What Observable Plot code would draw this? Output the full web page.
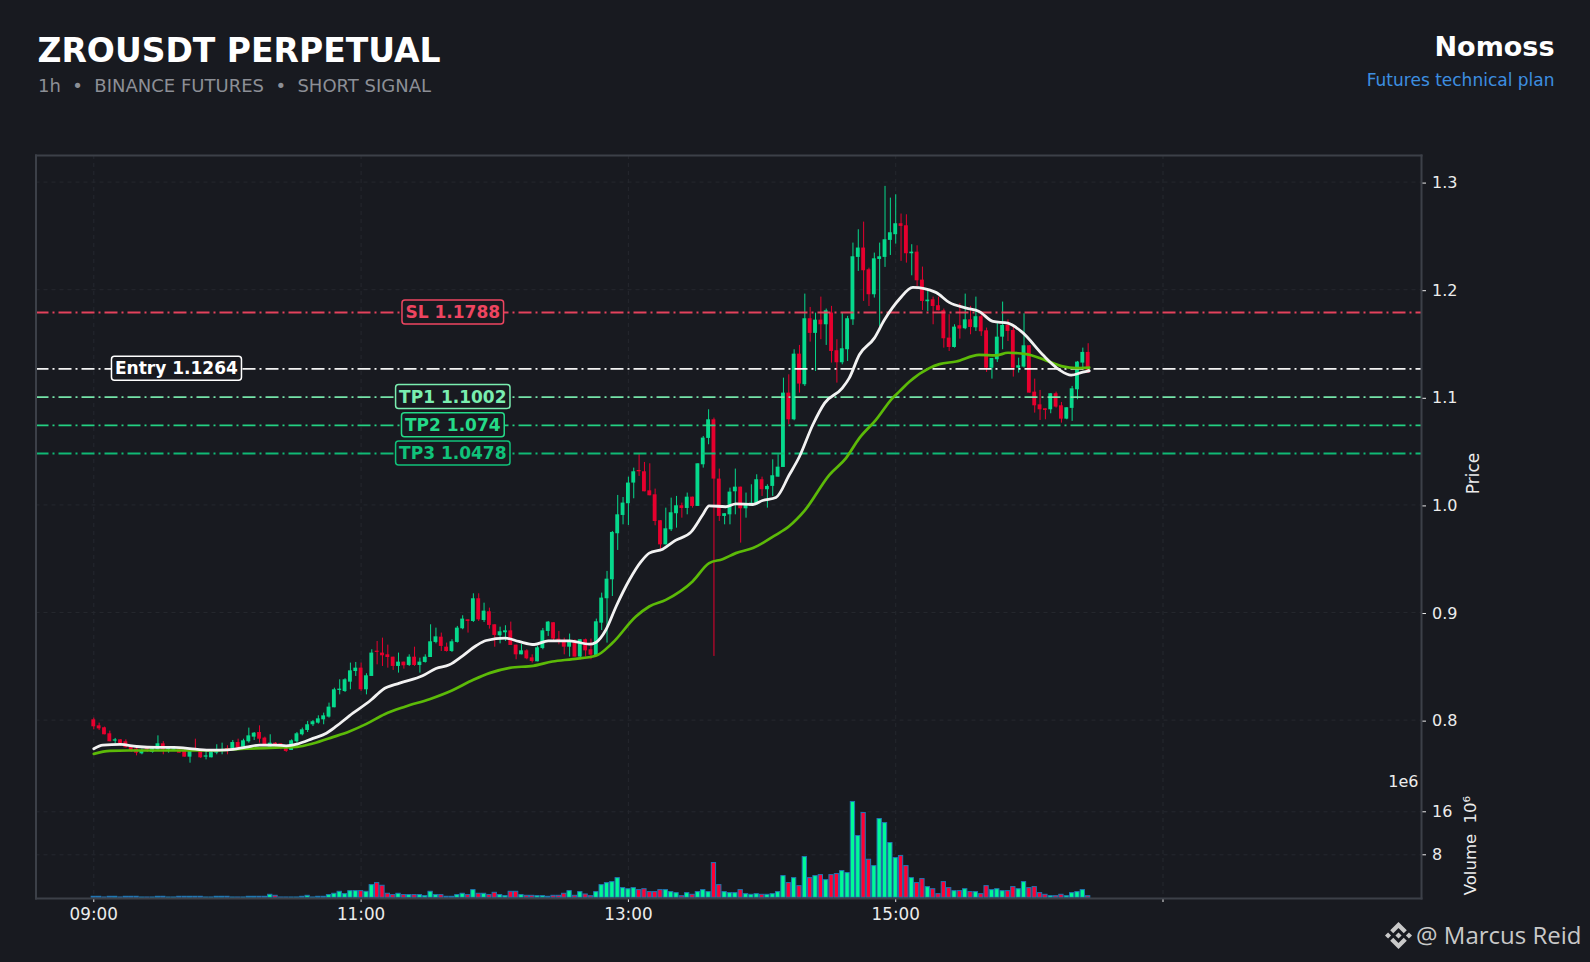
<!DOCTYPE html>
<html><head><meta charset="utf-8">
<script src="https://cdn.jsdelivr.net/npm/d3@7"></script>
<script src="https://cdn.jsdelivr.net/npm/@observablehq/plot@0.6"></script>
<style>
html,body{margin:0;padding:0;width:1590px;height:962px;overflow:hidden;background:#181a20;font-family:"DejaVu Sans",sans-serif}
.t{position:absolute;line-height:1;white-space:pre}
#price,#volume{position:absolute;left:0;width:1590px}
#price{top:129px}#volume{top:770px}
svg{display:block}
</style></head><body>
<div class="t" style="left:37.5px;top:33.5px;font-size:33px;font-weight:bold;color:#fff">ZROUSDT PERPETUAL</div>
<div class="t" style="left:38px;top:77px;font-size:18px;color:#8c8f96">1h  •  BINANCE FUTURES  •  SHORT SIGNAL</div>
<div class="t" style="right:35.5px;top:33.2px;font-size:27px;font-weight:bold;color:#fff">Nomoss</div>
<div class="t" style="right:35.5px;top:71.6px;font-size:17px;color:#3d8fe0">Futures technical plan</div>
<div id="price"></div><div id="volume"></div>
<svg style="position:absolute;left:1384.5px;top:922px" width="27" height="27" viewBox="0 0 126.61 126.61" fill="#c9c9c9"><path d="M38.73 53.2l24.59-24.58 24.6 24.6 14.3-14.31L63.32 0 24.43 38.89z"/><path d="M0 63.31l14.3-14.31 14.31 14.31-14.31 14.3z"/><path d="M38.73 73.41l24.59 24.59 24.6-24.6 14.31 14.29-38.9 38.91-38.91-38.88z"/><path d="M98 63.31l14.3-14.31 14.31 14.3-14.31 14.32z"/><path d="M77.83 63.3L63.32 48.78 52.59 59.51l-1.24 1.23-2.54 2.54 14.51 14.5 14.51-14.47z"/></svg>
<div class="t" style="right:8.5px;top:923px;font-size:24px;font-family:'Open Sans',sans-serif;color:#c9c9c9">@ Marcus Reid</div>
<script>
const opens=[.8003,.7947,.7929,.7873,.7805,.7817,.7799,.7749,.7731,.7687,
.7724,.77,.7724,.778,.7724,.7721,.7724,.7709,.7656,.7734,
.7709,.7656,.765,.7693,.7709,.7724,.7734,.7792,.7749,.7799,
.7842,.7885,.7833,.7749,.7786,.778,.774,.7718,.7799,.7864,
.7904,.7957,.7972,.8003,.8028,.8115,.8276,.8266,.8353,.8452,
.8483,.8282,.8406,.8629,.8623,.8607,.8585,.8499,.8539,.8508,
.8585,.8508,.8536,.8582,.8722,.8771,.8678,.8638,.8722,.8849,
.8932,.8917,.9128,.8926,.9007,.8886,.8784,.8812,.883,.8697,
.8607,.8644,.8579,.8542,.8666,.8824,.8905,.8753,.8722,.8678,
.8728,.8586,.8747,.8654,.8601,.8901,.9128,.9304,.9732,.9902,
1.0011,1.0203,1.0308,1.0308,1.0131,1.0094,.9853,.9629,.9769,.9918,
.9992,.9967,1.0072,.9986,1.0373,1.0618,1.0791,1.024,.9893,.9908,
1.0122,1.0165,.9964,.9986,1.0001,1.0234,1.0141,1.0172,1.0258,1.0348,
1.1039,1.0791,1.1401,1.1117,1.173,1.1594,1.1717,1.1674,1.1783,1.1433,
1.1321,1.1442,1.172,1.23,1.2387,1.2185,1.1953,1.2281,1.23,1.2458,
1.2511,1.2613,1.2594,1.2334,1.2349,1.2089,1.1888,1.1906,1.1851,1.1804,
1.155,1.1463,1.1665,1.1637,1.172,1.1646,1.1749,1.1618,1.1271,1.1349,
1.1559,1.1668,1.1621,1.1271,1.1281,1.1479,1.1048,1.093,1.0893,1.0884,
1.1033,1.0921,1.0797,1.0897,1.107,1.1318,1.1417];
const closes=[.7938,.7919,.7864,.7799,.7811,.778,.7743,.7709,.7693,.7718,
.7718,.7734,.778,.7724,.7737,.7727,.7693,.7656,.7709,.7709,
.765,.7662,.7699,.7712,.7724,.7712,.7792,.774,.7808,.7854,
.7879,.7823,.7771,.7786,.7755,.774,.7709,.7808,.7873,.791,
.7957,.7985,.8012,.804,.8121,.8282,.8282,.8375,.8458,.8483,
.8282,.8412,.8623,.8623,.8598,.8582,.8499,.8539,.8505,.8585,
.8508,.8539,.8585,.8728,.8774,.8685,.8638,.8728,.8855,.8939,
.8917,.9128,.8932,.9013,.888,.8787,.8821,.883,.8694,.8607,
.8644,.857,.8545,.8672,.883,.8911,.8753,.8722,.8678,.8722,
.8586,.8747,.8644,.8604,.8914,.9134,.931,.9744,.9908,1.0017,
1.0203,1.0308,1.0302,1.0122,1.0085,.9846,.9629,.9778,.9927,.9992,
.9967,1.0072,.9986,1.0382,1.0621,1.0791,1.024,.9893,.9918,1.0119,
1.0165,.9964,.9998,1.0017,1.0234,1.0141,1.0172,1.0271,1.0351,1.1039,
1.0791,1.1401,1.1123,1.173,1.1594,1.1717,1.1674,1.1804,1.1426,1.1321,
1.1451,1.173,1.2306,1.2387,1.2176,1.1953,1.2287,1.2306,1.2464,1.2529,
1.2613,1.2588,1.2334,1.2349,1.2083,1.1891,1.1903,1.1844,1.1804,1.1544,
1.1463,1.1652,1.1634,1.172,1.1649,1.1749,1.1609,1.1271,1.1361,1.1559,
1.1668,1.1612,1.1271,1.1293,1.1479,1.1039,1.0921,1.0884,1.0878,1.1033,
1.0909,1.0797,1.0903,1.1079,1.1327,1.1417,1.1225];
const highs=[.8019,.7972,.7935,.7898,.783,.7817,.7817,.7755,.774,.7731,
.773,.7746,.7854,.78,.7755,.774,.774,.7724,.7724,.7823,
.7718,.7712,.7712,.7771,.7786,.7762,.7811,.7823,.7823,.7926,
.7885,.7947,.7842,.7864,.7792,.778,.7755,.7817,.7885,.7926,
.7988,.7997,.804,.8065,.8158,.8297,.8375,.8385,.853,.8536,
.853,.8431,.8654,.8731,.8762,.8697,.8585,.8623,.8539,.8607,
.8678,.8576,.8607,.8886,.8855,.8809,.8716,.8747,.8871,.897,
.8932,.9174,.9174,.9087,.9041,.8886,.8864,.8877,.8911,.8697,
.8703,.8654,.8607,.8685,.8852,.8917,.8905,.8824,.8762,.88,
.8747,.8747,.8753,.8753,.8939,.918,.9382,.9753,1.0088,1.0069,
1.0258,1.0342,1.0472,1.0395,1.0382,1.0147,.9853,.997,1.0063,1.0079,
1.0017,1.011,1.0072,1.0382,1.0636,1.0884,1.0807,1.0333,.9918,1.0156,
1.0333,1.0165,1.011,1.0187,1.028,1.0258,1.0187,1.0419,1.0466,1.1178,
1.1209,1.1442,1.1482,1.1959,1.1835,1.1782,1.1931,1.182,1.1845,1.1535,
1.1783,1.1752,1.2433,1.2557,1.2628,1.22,1.234,1.2433,1.296,1.2851,
1.2882,1.2703,1.2696,1.2418,1.2408,1.221,1.1984,1.1931,1.1931,1.182,
1.1767,1.1674,1.1869,1.1959,1.1845,1.1931,1.1798,1.1643,1.1361,1.1684,
1.1885,1.172,1.1652,1.1364,1.1776,1.1479,1.1169,1.1064,1.0893,1.1033,
1.1048,1.0952,1.0903,1.1101,1.1333,1.1457,1.1498];
const lows=[.791,.7904,.7864,.7799,.778,.7755,.7743,.77,.7668,.7678,
.77,.7693,.7718,.7678,.7693,.7712,.7693,.7656,.76,.7709,
.7644,.7631,.765,.7678,.7678,.7678,.7724,.774,.774,.7786,
.7811,.7786,.7755,.774,.7746,.7724,.77,.7718,.7786,.7854,
.7885,.7941,.7963,.7957,.8019,.8115,.8235,.8257,.8282,.8406,
.8266,.8235,.8406,.8514,.8499,.8483,.8462,.8437,.8474,.8499,
.8499,.8437,.853,.8582,.8709,.8638,.8632,.8629,.8716,.884,
.8809,.8908,.8917,.8908,.8846,.8678,.8709,.8731,.8694,.8561,
.8607,.8561,.853,.8542,.8654,.8778,.8731,.87,.8607,.8586,
.8586,.8561,.8586,.8561,.8598,.8833,.8716,.9149,.9577,.9815,
.9809,1.0057,1.0265,1.0122,1.0085,.9806,.9589,.9629,.9753,.9784,
.9877,.9908,.997,.9986,1.0342,1.0559,.8592,.9846,.9815,.9815,
.9908,.9645,.9877,.9986,1.0001,1.0079,.997,1.0079,1.0258,1.0348,
1.0745,1.0782,1.1039,1.1101,1.1513,1.124,1.1535,1.1482,1.1318,1.1132,
1.1302,1.1333,1.1668,1.217,1.1891,1.1844,1.1922,1.1659,1.2207,1.2318,
1.2424,1.2263,1.2247,1.2129,1.203,1.1807,1.1798,1.1674,1.1804,1.1457,
1.1426,1.1457,1.1541,1.1628,1.1581,1.1612,1.1566,1.1231,1.1169,1.1324,
1.1442,1.1519,1.1188,1.1225,1.1271,1.1039,1.0853,1.0785,1.0791,1.0847,
1.09,1.076,1.0791,1.0776,1.0977,1.1271,1.1225];
const volumes=[.19,.19,.06,.19,.19,.06,.19,.19,.19,.06,
.06,.06,.19,.19,.06,.06,.19,.19,.19,.19,
.19,.06,.06,.19,.19,.19,.06,.06,.06,.19,
.19,.19,.19,.56,.37,.06,.06,.06,.06,.19,
.37,.06,.19,.19,.5,.75,1.12,.68,1.24,1.24,
1.24,1.12,2.36,2.73,2.24,.75,.5,.75,.5,.5,
.5,.5,.31,1.12,.5,.5,.19,.19,.5,.75,
.5,1.43,.75,.75,.5,.93,.5,.31,1.12,1.12,
.5,.37,.37,.31,.31,.19,.37,.37,.75,1.24,
.37,1.06,.62,.3,1.06,2.36,2.73,2.92,3.66,1.8,
1.6,1.8,1.43,1.6,1.06,1.06,1.43,1.43,1.06,.87,
.3,.87,.56,1.06,1.43,1.06,6.46,2.36,1.06,.87,
.87,1.43,.68,.56,.68,.56,.56,.68,1.06,4.04,
2.73,3.66,2.17,7.58,3.66,4.04,4.22,3.29,4.22,4.41,
4.97,4.6,17.83,11.49,15.78,7.08,5.9,14.66,13.9,10.19,
7.39,7.76,5.9,3.66,2.73,3.48,1.99,1.6,.68,2.92,
1.8,1.24,1.24,1.6,1.06,1.06,.68,2.17,1.43,1.6,
1.24,1.24,1.99,1.6,2.92,1.8,1.99,.87,.56,.3,
.3,.56,.3,.87,1.06,1.43,.3];
const emaFastIdx=[0,1.7,5,8,12,15,19,22,25,28.5,31,34,36,38,41,43.5,45.3,47.8,51.9,54,57.2,61.5,64,66.5,69,71.5,73.4,77,79.5,82.4,85,89,92.7,93.9,95.8,97.7,100.2,102.4,103.9,106.4,108.8,111.7,113.9,115.1,118.2,120.1,123.3,125.1,127.6,130.1,132,134.5,136.7,140,141.3,143.2,146,147.9,150.7,153.2,157.5,160,163.2,165.6,168.2,171,173.7,177.5,180.6,182.8,185,186.2];
const emaFast=[.7734,.7768,.7774,.7755,.7746,.7746,.773,.7721,.7724,.7749,.7768,.7768,.7761,.7777,.783,.7879,.7941,.804,.8189,.8282,.8344,.8412,.848,.8514,.8598,.8691,.874,.8762,.8731,.8703,.8737,.8737,.8706,.8722,.884,.9056,.9304,.9475,.9552,.9589,.967,.9747,.9908,.9992,.9983,1.001,1.0004,1.0041,1.0069,1.028,1.045,1.0745,1.0946,1.1085,1.1178,1.1395,1.155,1.172,1.1913,1.2021,1.1975,1.1882,1.1829,1.1798,1.1705,1.1689,1.1603,1.1395,1.1256,1.1206,1.1234,1.1246];
const emaSlowIdx=[0,3,6.5,13,22,28.5,35,38,41,44.7,47.8,51,54.4,58.2,62.8,67,71,74,77.8,82.2,85.8,89.6,93.9,97,101.4,103.9,107,112,115.1,117.6,120.1,123.3,127.6,130,133,137.6,140.7,143.2,146.3,149.4,150.7,152.6,156.3,158.2,161.3,165.6,168.7,171,174.4,178.1,181.2,183.7,186.2];
const emaSlow=[.7687,.7715,.7718,.7718,.7718,.7734,.7746,.7752,.7783,.7842,.7895,.7965,.8055,.8125,.8195,.8276,.8375,.8437,.8486,.8505,.8545,.8567,.8598,.8716,.8963,.9056,.9118,.9289,.9459,.9496,.9552,.9599,.9722,.98,.995,1.028,1.0435,1.0621,1.0791,1.0993,1.1055,1.1147,1.1271,1.1308,1.1333,1.1395,1.1389,1.1414,1.1402,1.1343,1.1287,1.1271,1.1275];
const levelNames=["SL 1.1788","Entry 1.1264","TP1 1.1002","TP2 1.074","TP3 1.0478"];
const levelPrices=[1.1788,1.1264,1.1002,1.074,1.0478];
const levelLabelIdx=[67.15,15.45,67.15,67.15,67.15];
const levelColors=["#ee4560","#ffffff","#7aeeb0","#24da88","#10c27a"];
const priceTicks=[.8,.9,1,1.1,1.2,1.3];
const volumeTicks=[8,16];
const xTicks=[0,50,100,150,200];
const xTickLabels=["09:00","11:00","13:00","15:00",""];

const candles=opens.map((o,i)=>({i,o,c:closes[i],h:highs[i],l:lows[i],v:volumes[i]}));
const zipXY=(xs,ys)=>xs.map((x,k)=>({x,y:ys[k]}));
const up="#06d98c",down="#e6002e",volUp="#00fa96",volDown="#ff0033",grid="#25282e",edge="#3c4048";
const xOpt={domain:[-10.81,248.35]};
const style={background:"transparent",color:"#ececec",fontFamily:"DejaVu Sans",fontSize:"16.5px"};
const dd="13 4 2 4";
const ml=35.5,mr=169;

const pricePlot=Plot.plot({
  width:1590,height:641,marginLeft:ml,marginRight:mr,marginTop:26,marginBottom:0,
  style,x:{...xOpt,axis:null},y:{domain:[.7532,1.3247]},
  marks:[
    Plot.gridX(xTicks,{stroke:grid,strokeOpacity:1,strokeDasharray:"4 4"}),
    Plot.gridY(priceTicks,{stroke:grid,strokeOpacity:1,strokeDasharray:"4 4"}),
    Plot.ruleX(candles,{x:"i",y1:"l",y2:"h",stroke:d=>d.c>=d.o?up:down,strokeWidth:1}),
    Plot.rect(candles,{x1:d=>d.i-.36,x2:d=>d.i+.36,y1:"o",y2:d=>Math.abs(d.c-d.o)<.0012?d.o+.0012:d.c,fill:d=>d.c>=d.o?up:down}),
    levelPrices.map((p,k)=>Plot.ruleY([p],{stroke:levelColors[k],strokeWidth:1.8,strokeDasharray:dd,strokeOpacity:.95})),
    Plot.line(zipXY(emaSlowIdx,emaSlow),{x:"x",y:"y",stroke:"#5cba08",strokeWidth:2.7,curve:"monotone-x"}),
    Plot.line(zipXY(emaFastIdx,emaFast),{x:"x",y:"y",stroke:"#f2f2f2",strokeWidth:2.8,curve:"monotone-x"}),
    levelPrices.map((p,k)=>Plot.text([levelNames[k]],{x:levelLabelIdx[k],y:p,fill:levelColors[k],fontWeight:"bold",fontSize:17,className:"lvl"})),
    Plot.axisY(priceTicks,{anchor:"right",tickSize:4,tickPadding:6.5,tickFormat:d=>d.toFixed(1),label:null,fontSize:16,dy:1}),
    Plot.text(["Price"],{frameAnchor:"right",dx:52,dy:10.5,rotate:-90,textAnchor:"middle",fontSize:17,fill:"#ececec"}),
    Plot.frame({anchor:"top",stroke:edge,strokeWidth:2,strokeOpacity:1}),
    Plot.frame({anchor:"left",stroke:edge,strokeWidth:2,strokeOpacity:1}),
    Plot.frame({anchor:"right",stroke:edge,strokeWidth:2,strokeOpacity:1})
  ]
});
const volumePlot=Plot.plot({
  width:1590,height:170,marginLeft:ml,marginRight:mr,marginTop:0,marginBottom:42,
  style,x:xOpt,y:{domain:[-.13,23.68]},
  marks:[
    Plot.gridX(xTicks,{stroke:grid,strokeOpacity:1,strokeDasharray:"4 4"}),
    Plot.gridY(volumeTicks,{stroke:grid,strokeOpacity:1,strokeDasharray:"4 4"}),
    Plot.rect(candles,{x1:d=>d.i-.4,x2:d=>d.i+.4,y1:0,y2:"v",fill:d=>d.c>=d.o?volUp:volDown,stroke:"#1f77b4",strokeWidth:1}),
    Plot.axisX(xTicks,{anchor:"bottom",tickSize:4,tickPadding:6,tickFormat:(d)=>xTickLabels[xTicks.indexOf(d)],label:null,fontSize:16.8}),
    Plot.axisY(volumeTicks,{anchor:"right",tickSize:4,tickPadding:6.5,label:null,fontSize:16}),
    Plot.text(["1e6"],{frameAnchor:"top-right",dx:-3,dy:5.5,textAnchor:"end",fontSize:16,fill:"#ececec"}),
    Plot.text(["Volume  10⁶"],{frameAnchor:"right",dx:49,dy:11,rotate:-90,textAnchor:"middle",fontSize:16.5,fill:"#ececec"}),
    Plot.frame({anchor:"bottom",stroke:edge,strokeWidth:2,strokeOpacity:1}),
    Plot.frame({anchor:"left",stroke:edge,strokeWidth:2,strokeOpacity:1}),
    Plot.frame({anchor:"right",stroke:edge,strokeWidth:2,strokeOpacity:1})
  ]
});
document.getElementById("price").append(pricePlot);
document.getElementById("volume").append(volumePlot);
pricePlot.querySelectorAll(".lvl text").forEach(t=>{
  const b=t.getBBox(),color=t.parentNode.getAttribute("fill")||t.getAttribute("fill");
  const m=t.getAttribute("transform");
  const r=document.createElementNS("http://www.w3.org/2000/svg","rect");
  r.setAttribute("x",b.x-3.5);r.setAttribute("y",b.y-2);
  r.setAttribute("width",b.width+7);r.setAttribute("height",b.height+4);
  r.setAttribute("rx",3);r.setAttribute("fill","#181a20");r.setAttribute("stroke",color);r.setAttribute("stroke-width",1.5);
  if(m)r.setAttribute("transform",m);
  t.parentNode.insertBefore(r,t);
});
</script>
</body></html>
